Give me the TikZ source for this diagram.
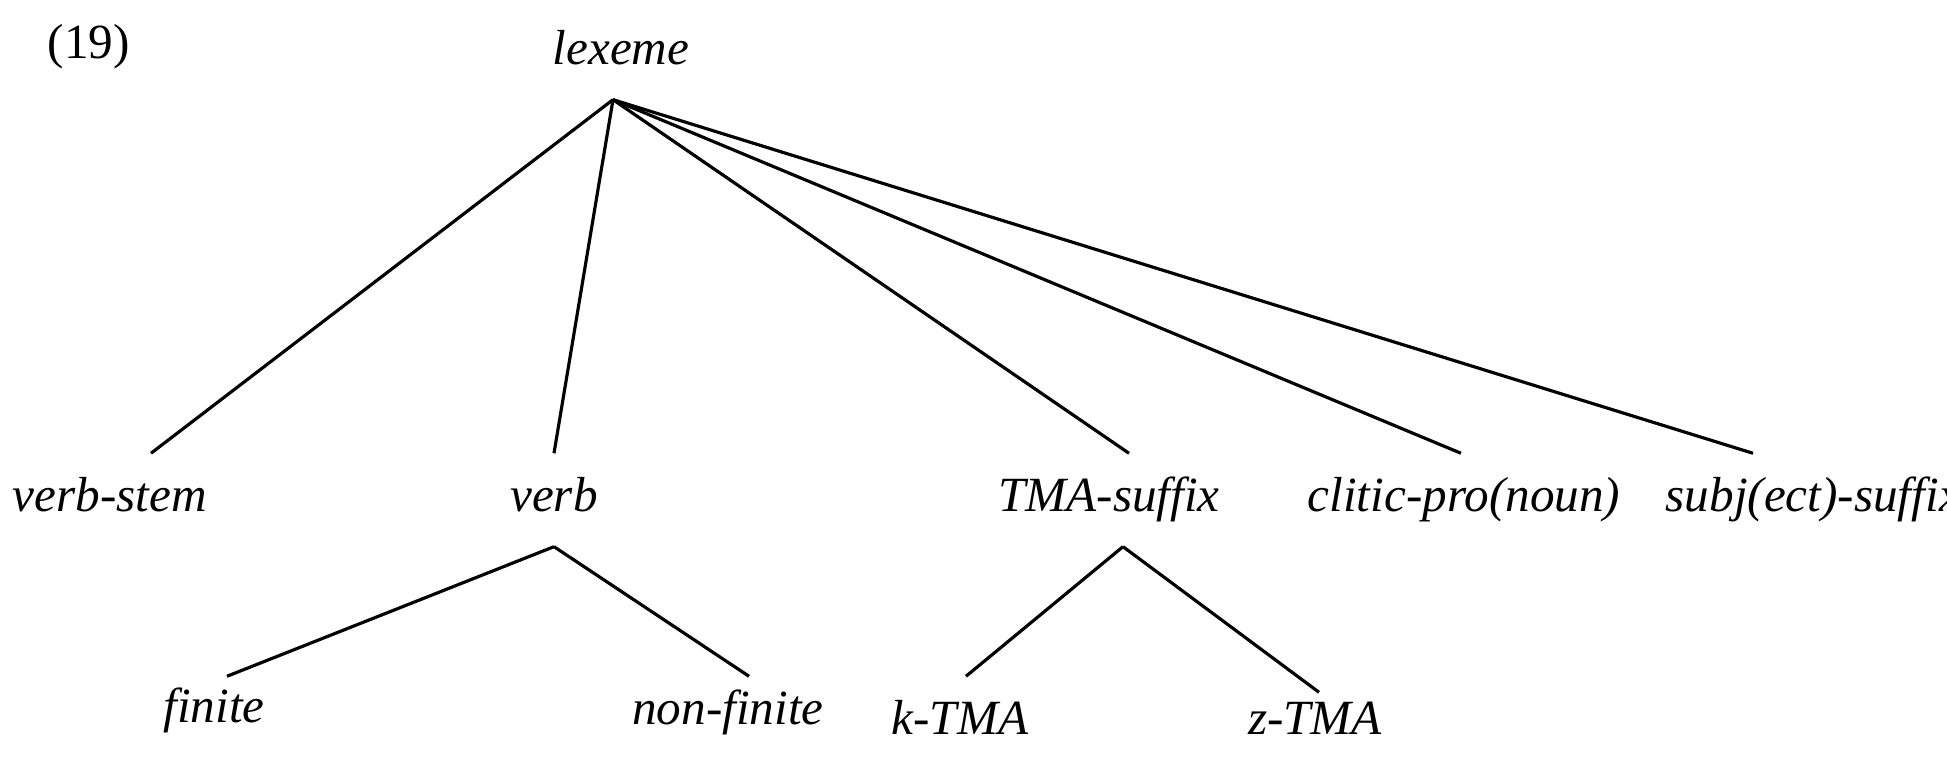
\documentclass[tikz,border=0pt]{standalone}
\usepackage{fontspec}
\setmainfont{Liberation Serif}
\usetikzlibrary{positioning}

\begin{document}
\begin{tikzpicture}[
  lbl/.style={font=\fontsize{14}{16}\selectfont\itshape, anchor=base,
              inner xsep=0pt, inner ysep=0.27cm,
              text height=0.31cm, text depth=0.07cm},
  num/.style={font=\fontsize{14}{16}\selectfont, anchor=base west, inner sep=0pt},
  branch/.style={line width=0.9pt}
]
  \useasboundingbox (0,0) rectangle (19.47,7.63);
  \node[num] (exnum) at (0.47,7.04) {(19)};
  % top level
  \node[lbl] (lexeme) at (6.21,6.98) {lexeme};
  % second level
  \node[lbl] (vstem)  at (1.10,2.51) {verb-stem};
  \node[lbl] (verb)   at (5.54,2.51) {verb};
  \node[lbl] (tma)    at (11.09,2.51) {TMA-suffix};
  \node[lbl] (clitic) at (14.64,2.51) {clitic-pro(noun)};
  \node[lbl, anchor=base west] (subj) at (16.65,2.51) {subj(ect)-suffix};
  % third level
  \node[lbl] (finite)  at (2.14,0.40) {finite};
  \node[lbl] (nonfin)  at (7.28,0.38) {non-finite};
  \node[lbl] (ktma)    at (9.60,0.28) {k-TMA};
  \node[lbl] (ztma)    at (13.15,0.28) {z-TMA};

  \draw[branch] ([xshift=-0.08cm]lexeme.south) -- ([xshift=0.41cm]vstem.north);
  \draw[branch] ([xshift=-0.08cm]lexeme.south) -- (verb.north);
  \draw[branch] ([xshift=-0.08cm]lexeme.south) -- ([xshift=0.20cm]tma.north);
  \draw[branch] ([xshift=-0.08cm]lexeme.south) -- ([xshift=-0.03cm]clitic.north);
  \draw[branch] ([xshift=-0.08cm]lexeme.south) -- ([xshift=0.88cm]subj.north west);
  \draw[branch] (verb.south) -- ([xshift=0.13cm,yshift=-0.12cm]finite.north);
  \draw[branch] (verb.south) -- ([xshift=0.21cm,yshift=-0.10cm]nonfin.north);
  \draw[branch] ([xshift=0.14cm]tma.south) -- ([xshift=0.06cm]ktma.north);
  \draw[branch] ([xshift=0.14cm]tma.south) -- ([xshift=0.04cm,yshift=-0.16cm]ztma.north);
\end{tikzpicture}
\end{document}
